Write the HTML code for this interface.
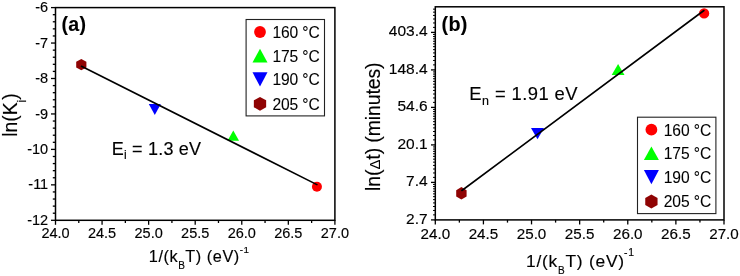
<!DOCTYPE html>
<html><head><meta charset="utf-8"><style>
html,body{margin:0;padding:0;background:#fff;}
svg{display:block;font-family:"Liberation Sans", Arial, sans-serif;fill:#000;}
text{stroke:#000;stroke-width:0.15px;paint-order:stroke;}
</style></head><body>
<svg width="740" height="276" viewBox="0 0 740 276">
<line x1="55.5" y1="220.3" x2="55.5" y2="224.8" stroke="#000" stroke-width="1.3" stroke-linecap="butt"/>
<line x1="78.78" y1="220.3" x2="78.78" y2="223" stroke="#000" stroke-width="1.3" stroke-linecap="butt"/>
<line x1="102.07" y1="220.3" x2="102.07" y2="224.8" stroke="#000" stroke-width="1.3" stroke-linecap="butt"/>
<line x1="125.35" y1="220.3" x2="125.35" y2="223" stroke="#000" stroke-width="1.3" stroke-linecap="butt"/>
<line x1="148.63" y1="220.3" x2="148.63" y2="224.8" stroke="#000" stroke-width="1.3" stroke-linecap="butt"/>
<line x1="171.92" y1="220.3" x2="171.92" y2="223" stroke="#000" stroke-width="1.3" stroke-linecap="butt"/>
<line x1="195.2" y1="220.3" x2="195.2" y2="224.8" stroke="#000" stroke-width="1.3" stroke-linecap="butt"/>
<line x1="218.48" y1="220.3" x2="218.48" y2="223" stroke="#000" stroke-width="1.3" stroke-linecap="butt"/>
<line x1="241.77" y1="220.3" x2="241.77" y2="224.8" stroke="#000" stroke-width="1.3" stroke-linecap="butt"/>
<line x1="265.05" y1="220.3" x2="265.05" y2="223" stroke="#000" stroke-width="1.3" stroke-linecap="butt"/>
<line x1="288.33" y1="220.3" x2="288.33" y2="224.8" stroke="#000" stroke-width="1.3" stroke-linecap="butt"/>
<line x1="311.62" y1="220.3" x2="311.62" y2="223" stroke="#000" stroke-width="1.3" stroke-linecap="butt"/>
<line x1="334.9" y1="220.3" x2="334.9" y2="224.8" stroke="#000" stroke-width="1.3" stroke-linecap="butt"/>
<line x1="55.5" y1="7.6" x2="51" y2="7.6" stroke="#000" stroke-width="1.3" stroke-linecap="butt"/>
<line x1="55.5" y1="14.69" x2="52.8" y2="14.69" stroke="#000" stroke-width="1.3" stroke-linecap="butt"/>
<line x1="55.5" y1="21.78" x2="52.8" y2="21.78" stroke="#000" stroke-width="1.3" stroke-linecap="butt"/>
<line x1="55.5" y1="28.87" x2="52.8" y2="28.87" stroke="#000" stroke-width="1.3" stroke-linecap="butt"/>
<line x1="55.5" y1="35.96" x2="52.8" y2="35.96" stroke="#000" stroke-width="1.3" stroke-linecap="butt"/>
<line x1="55.5" y1="43.05" x2="51" y2="43.05" stroke="#000" stroke-width="1.3" stroke-linecap="butt"/>
<line x1="55.5" y1="50.14" x2="52.8" y2="50.14" stroke="#000" stroke-width="1.3" stroke-linecap="butt"/>
<line x1="55.5" y1="57.23" x2="52.8" y2="57.23" stroke="#000" stroke-width="1.3" stroke-linecap="butt"/>
<line x1="55.5" y1="64.32" x2="52.8" y2="64.32" stroke="#000" stroke-width="1.3" stroke-linecap="butt"/>
<line x1="55.5" y1="71.41" x2="52.8" y2="71.41" stroke="#000" stroke-width="1.3" stroke-linecap="butt"/>
<line x1="55.5" y1="78.5" x2="51" y2="78.5" stroke="#000" stroke-width="1.3" stroke-linecap="butt"/>
<line x1="55.5" y1="85.59" x2="52.8" y2="85.59" stroke="#000" stroke-width="1.3" stroke-linecap="butt"/>
<line x1="55.5" y1="92.68" x2="52.8" y2="92.68" stroke="#000" stroke-width="1.3" stroke-linecap="butt"/>
<line x1="55.5" y1="99.77" x2="52.8" y2="99.77" stroke="#000" stroke-width="1.3" stroke-linecap="butt"/>
<line x1="55.5" y1="106.86" x2="52.8" y2="106.86" stroke="#000" stroke-width="1.3" stroke-linecap="butt"/>
<line x1="55.5" y1="113.95" x2="51" y2="113.95" stroke="#000" stroke-width="1.3" stroke-linecap="butt"/>
<line x1="55.5" y1="121.04" x2="52.8" y2="121.04" stroke="#000" stroke-width="1.3" stroke-linecap="butt"/>
<line x1="55.5" y1="128.13" x2="52.8" y2="128.13" stroke="#000" stroke-width="1.3" stroke-linecap="butt"/>
<line x1="55.5" y1="135.22" x2="52.8" y2="135.22" stroke="#000" stroke-width="1.3" stroke-linecap="butt"/>
<line x1="55.5" y1="142.31" x2="52.8" y2="142.31" stroke="#000" stroke-width="1.3" stroke-linecap="butt"/>
<line x1="55.5" y1="149.4" x2="51" y2="149.4" stroke="#000" stroke-width="1.3" stroke-linecap="butt"/>
<line x1="55.5" y1="156.49" x2="52.8" y2="156.49" stroke="#000" stroke-width="1.3" stroke-linecap="butt"/>
<line x1="55.5" y1="163.58" x2="52.8" y2="163.58" stroke="#000" stroke-width="1.3" stroke-linecap="butt"/>
<line x1="55.5" y1="170.67" x2="52.8" y2="170.67" stroke="#000" stroke-width="1.3" stroke-linecap="butt"/>
<line x1="55.5" y1="177.76" x2="52.8" y2="177.76" stroke="#000" stroke-width="1.3" stroke-linecap="butt"/>
<line x1="55.5" y1="184.85" x2="51" y2="184.85" stroke="#000" stroke-width="1.3" stroke-linecap="butt"/>
<line x1="55.5" y1="191.94" x2="52.8" y2="191.94" stroke="#000" stroke-width="1.3" stroke-linecap="butt"/>
<line x1="55.5" y1="199.03" x2="52.8" y2="199.03" stroke="#000" stroke-width="1.3" stroke-linecap="butt"/>
<line x1="55.5" y1="206.12" x2="52.8" y2="206.12" stroke="#000" stroke-width="1.3" stroke-linecap="butt"/>
<line x1="55.5" y1="213.21" x2="52.8" y2="213.21" stroke="#000" stroke-width="1.3" stroke-linecap="butt"/>
<line x1="55.5" y1="220.3" x2="51" y2="220.3" stroke="#000" stroke-width="1.3" stroke-linecap="butt"/>
<rect x="55.5" y="7.6" width="279.4" height="212.7" fill="none" stroke="#000" stroke-width="1.5"/>
<text x="55.5" y="238" font-size="14.5" text-anchor="middle" font-weight="normal" >24.0</text>
<text x="102.07" y="238" font-size="14.5" text-anchor="middle" font-weight="normal" >24.5</text>
<text x="148.63" y="238" font-size="14.5" text-anchor="middle" font-weight="normal" >25.0</text>
<text x="195.2" y="238" font-size="14.5" text-anchor="middle" font-weight="normal" >25.5</text>
<text x="241.77" y="238" font-size="14.5" text-anchor="middle" font-weight="normal" >26.0</text>
<text x="288.33" y="238" font-size="14.5" text-anchor="middle" font-weight="normal" >26.5</text>
<text x="334.9" y="238" font-size="14.5" text-anchor="middle" font-weight="normal" >27.0</text>
<text x="48.2" y="12.2" font-size="14.5" text-anchor="end" font-weight="normal" >-6</text>
<text x="48.2" y="47.65" font-size="14.5" text-anchor="end" font-weight="normal" >-7</text>
<text x="48.2" y="83.1" font-size="14.5" text-anchor="end" font-weight="normal" >-8</text>
<text x="48.2" y="118.55" font-size="14.5" text-anchor="end" font-weight="normal" >-9</text>
<text x="48.2" y="154" font-size="14.5" text-anchor="end" font-weight="normal" >-10</text>
<text x="48.2" y="189.45" font-size="14.5" text-anchor="end" font-weight="normal" >-11</text>
<text x="48.2" y="224.9" font-size="14.5" text-anchor="end" font-weight="normal" >-12</text>
<text x="148.8" y="261.7" font-size="16.3" text-anchor="start" font-weight="normal" letter-spacing="0.55">1/(k<tspan font-size="10" dy="7.3" letter-spacing="0">B</tspan><tspan dy="-7.3" dx="0.5">T) (eV)</tspan><tspan font-size="9.8" dy="-9" dx="0">-1</tspan></text>
<text transform="translate(17.2,136.8) rotate(-90)" font-size="19.3">ln(K<tspan font-size="12" dy="9">i</tspan><tspan dy="-9">)</tspan></text>
<text x="61.6" y="31" font-size="19.6" text-anchor="start" font-weight="bold" style="stroke-width:0.1px" letter-spacing="0.2">(a)</text>
<text x="111.8" y="155" font-size="18" text-anchor="start" font-weight="normal" letter-spacing="0.2">E<tspan font-size="12" dy="4.1">i</tspan><tspan dy="-4.1"> = 1.3 eV</tspan></text>
<circle cx="316.93" cy="186.7" r="5" fill="#ff0000"/>
<polygon points="81.3,58.9 86.4,61.75 86.4,67.45 81.3,70.3 76.2,67.45 76.2,61.75" fill="#8f0303"/>
<polygon points="148.8,104.1 160.8,104.1 154.8,115.1" fill="#0000ff"/>
<polygon points="233.3,130.5 239.05,140.8 227.55,140.8" fill="#00ff00"/>
<line x1="81.5" y1="66.3" x2="316.9" y2="184.6" stroke="#000" stroke-width="1.6" stroke-linecap="round"/>
<rect x="246.1" y="19.5" width="78.4" height="96.4" fill="#fff" stroke="#222" stroke-width="1.1"/>
<circle cx="260" cy="32" r="5.9" fill="#ff0000"/>
<polygon points="260,48.7 267.5,62.4 252.5,62.4" fill="#00ff00"/>
<polygon points="252.5,72.3 267.5,72.3 260,86.6" fill="#0000ff"/>
<polygon points="260,96.9 266.15,100.35 266.15,107.25 260,110.7 253.85,107.25 253.85,100.35" fill="#8f0303"/>
<text x="272.4" y="37.9" font-size="15.6" text-anchor="start" font-weight="normal" letter-spacing="-0.1" style="stroke-width:0.08px">160 °C</text>
<text x="272.4" y="61.6" font-size="15.6" text-anchor="start" font-weight="normal" letter-spacing="-0.1" style="stroke-width:0.08px">175 °C</text>
<text x="272.4" y="85.4" font-size="15.6" text-anchor="start" font-weight="normal" letter-spacing="-0.1" style="stroke-width:0.08px">190 °C</text>
<text x="272.4" y="109.7" font-size="15.6" text-anchor="start" font-weight="normal" letter-spacing="-0.1" style="stroke-width:0.08px">205 °C</text>
<line x1="435.3" y1="219.9" x2="435.3" y2="224.4" stroke="#000" stroke-width="1.3" stroke-linecap="butt"/>
<line x1="459.36" y1="219.9" x2="459.36" y2="222.6" stroke="#000" stroke-width="1.3" stroke-linecap="butt"/>
<line x1="483.42" y1="219.9" x2="483.42" y2="224.4" stroke="#000" stroke-width="1.3" stroke-linecap="butt"/>
<line x1="507.48" y1="219.9" x2="507.48" y2="222.6" stroke="#000" stroke-width="1.3" stroke-linecap="butt"/>
<line x1="531.53" y1="219.9" x2="531.53" y2="224.4" stroke="#000" stroke-width="1.3" stroke-linecap="butt"/>
<line x1="555.59" y1="219.9" x2="555.59" y2="222.6" stroke="#000" stroke-width="1.3" stroke-linecap="butt"/>
<line x1="579.65" y1="219.9" x2="579.65" y2="224.4" stroke="#000" stroke-width="1.3" stroke-linecap="butt"/>
<line x1="603.71" y1="219.9" x2="603.71" y2="222.6" stroke="#000" stroke-width="1.3" stroke-linecap="butt"/>
<line x1="627.77" y1="219.9" x2="627.77" y2="224.4" stroke="#000" stroke-width="1.3" stroke-linecap="butt"/>
<line x1="651.83" y1="219.9" x2="651.83" y2="222.6" stroke="#000" stroke-width="1.3" stroke-linecap="butt"/>
<line x1="675.88" y1="219.9" x2="675.88" y2="224.4" stroke="#000" stroke-width="1.3" stroke-linecap="butt"/>
<line x1="699.94" y1="219.9" x2="699.94" y2="222.6" stroke="#000" stroke-width="1.3" stroke-linecap="butt"/>
<line x1="724" y1="219.9" x2="724" y2="224.4" stroke="#000" stroke-width="1.3" stroke-linecap="butt"/>
<line x1="435.3" y1="219.9" x2="431" y2="219.9" stroke="#000" stroke-width="1.3" stroke-linecap="butt"/>
<line x1="435.3" y1="214.88" x2="433" y2="214.88" stroke="#000" stroke-width="1.0" stroke-linecap="butt"/>
<line x1="435.3" y1="210.46" x2="433" y2="210.46" stroke="#000" stroke-width="1.0" stroke-linecap="butt"/>
<line x1="435.3" y1="206.5" x2="433" y2="206.5" stroke="#000" stroke-width="1.0" stroke-linecap="butt"/>
<line x1="435.3" y1="202.92" x2="433" y2="202.92" stroke="#000" stroke-width="1.0" stroke-linecap="butt"/>
<line x1="435.3" y1="199.65" x2="433" y2="199.65" stroke="#000" stroke-width="1.0" stroke-linecap="butt"/>
<line x1="435.3" y1="196.65" x2="433" y2="196.65" stroke="#000" stroke-width="1.0" stroke-linecap="butt"/>
<line x1="435.3" y1="193.86" x2="433" y2="193.86" stroke="#000" stroke-width="1.0" stroke-linecap="butt"/>
<line x1="435.3" y1="191.27" x2="433" y2="191.27" stroke="#000" stroke-width="1.0" stroke-linecap="butt"/>
<line x1="435.3" y1="188.85" x2="433" y2="188.85" stroke="#000" stroke-width="1.0" stroke-linecap="butt"/>
<line x1="435.3" y1="186.57" x2="433" y2="186.57" stroke="#000" stroke-width="1.0" stroke-linecap="butt"/>
<line x1="435.3" y1="184.43" x2="433" y2="184.43" stroke="#000" stroke-width="1.0" stroke-linecap="butt"/>
<line x1="435.3" y1="182.4" x2="431" y2="182.4" stroke="#000" stroke-width="1.3" stroke-linecap="butt"/>
<line x1="435.3" y1="177.38" x2="433" y2="177.38" stroke="#000" stroke-width="1.0" stroke-linecap="butt"/>
<line x1="435.3" y1="172.96" x2="433" y2="172.96" stroke="#000" stroke-width="1.0" stroke-linecap="butt"/>
<line x1="435.3" y1="169" x2="433" y2="169" stroke="#000" stroke-width="1.0" stroke-linecap="butt"/>
<line x1="435.3" y1="165.42" x2="433" y2="165.42" stroke="#000" stroke-width="1.0" stroke-linecap="butt"/>
<line x1="435.3" y1="162.15" x2="433" y2="162.15" stroke="#000" stroke-width="1.0" stroke-linecap="butt"/>
<line x1="435.3" y1="159.15" x2="433" y2="159.15" stroke="#000" stroke-width="1.0" stroke-linecap="butt"/>
<line x1="435.3" y1="156.36" x2="433" y2="156.36" stroke="#000" stroke-width="1.0" stroke-linecap="butt"/>
<line x1="435.3" y1="153.77" x2="433" y2="153.77" stroke="#000" stroke-width="1.0" stroke-linecap="butt"/>
<line x1="435.3" y1="151.35" x2="433" y2="151.35" stroke="#000" stroke-width="1.0" stroke-linecap="butt"/>
<line x1="435.3" y1="149.07" x2="433" y2="149.07" stroke="#000" stroke-width="1.0" stroke-linecap="butt"/>
<line x1="435.3" y1="146.93" x2="433" y2="146.93" stroke="#000" stroke-width="1.0" stroke-linecap="butt"/>
<line x1="435.3" y1="144.9" x2="431" y2="144.9" stroke="#000" stroke-width="1.3" stroke-linecap="butt"/>
<line x1="435.3" y1="139.88" x2="433" y2="139.88" stroke="#000" stroke-width="1.0" stroke-linecap="butt"/>
<line x1="435.3" y1="135.46" x2="433" y2="135.46" stroke="#000" stroke-width="1.0" stroke-linecap="butt"/>
<line x1="435.3" y1="131.5" x2="433" y2="131.5" stroke="#000" stroke-width="1.0" stroke-linecap="butt"/>
<line x1="435.3" y1="127.92" x2="433" y2="127.92" stroke="#000" stroke-width="1.0" stroke-linecap="butt"/>
<line x1="435.3" y1="124.65" x2="433" y2="124.65" stroke="#000" stroke-width="1.0" stroke-linecap="butt"/>
<line x1="435.3" y1="121.65" x2="433" y2="121.65" stroke="#000" stroke-width="1.0" stroke-linecap="butt"/>
<line x1="435.3" y1="118.86" x2="433" y2="118.86" stroke="#000" stroke-width="1.0" stroke-linecap="butt"/>
<line x1="435.3" y1="116.27" x2="433" y2="116.27" stroke="#000" stroke-width="1.0" stroke-linecap="butt"/>
<line x1="435.3" y1="113.85" x2="433" y2="113.85" stroke="#000" stroke-width="1.0" stroke-linecap="butt"/>
<line x1="435.3" y1="111.57" x2="433" y2="111.57" stroke="#000" stroke-width="1.0" stroke-linecap="butt"/>
<line x1="435.3" y1="109.43" x2="433" y2="109.43" stroke="#000" stroke-width="1.0" stroke-linecap="butt"/>
<line x1="435.3" y1="107.4" x2="431" y2="107.4" stroke="#000" stroke-width="1.3" stroke-linecap="butt"/>
<line x1="435.3" y1="102.38" x2="433" y2="102.38" stroke="#000" stroke-width="1.0" stroke-linecap="butt"/>
<line x1="435.3" y1="97.96" x2="433" y2="97.96" stroke="#000" stroke-width="1.0" stroke-linecap="butt"/>
<line x1="435.3" y1="94" x2="433" y2="94" stroke="#000" stroke-width="1.0" stroke-linecap="butt"/>
<line x1="435.3" y1="90.42" x2="433" y2="90.42" stroke="#000" stroke-width="1.0" stroke-linecap="butt"/>
<line x1="435.3" y1="87.15" x2="433" y2="87.15" stroke="#000" stroke-width="1.0" stroke-linecap="butt"/>
<line x1="435.3" y1="84.15" x2="433" y2="84.15" stroke="#000" stroke-width="1.0" stroke-linecap="butt"/>
<line x1="435.3" y1="81.36" x2="433" y2="81.36" stroke="#000" stroke-width="1.0" stroke-linecap="butt"/>
<line x1="435.3" y1="78.77" x2="433" y2="78.77" stroke="#000" stroke-width="1.0" stroke-linecap="butt"/>
<line x1="435.3" y1="76.35" x2="433" y2="76.35" stroke="#000" stroke-width="1.0" stroke-linecap="butt"/>
<line x1="435.3" y1="74.07" x2="433" y2="74.07" stroke="#000" stroke-width="1.0" stroke-linecap="butt"/>
<line x1="435.3" y1="71.93" x2="433" y2="71.93" stroke="#000" stroke-width="1.0" stroke-linecap="butt"/>
<line x1="435.3" y1="69.9" x2="431" y2="69.9" stroke="#000" stroke-width="1.3" stroke-linecap="butt"/>
<line x1="435.3" y1="64.88" x2="433" y2="64.88" stroke="#000" stroke-width="1.0" stroke-linecap="butt"/>
<line x1="435.3" y1="60.46" x2="433" y2="60.46" stroke="#000" stroke-width="1.0" stroke-linecap="butt"/>
<line x1="435.3" y1="56.5" x2="433" y2="56.5" stroke="#000" stroke-width="1.0" stroke-linecap="butt"/>
<line x1="435.3" y1="52.92" x2="433" y2="52.92" stroke="#000" stroke-width="1.0" stroke-linecap="butt"/>
<line x1="435.3" y1="49.65" x2="433" y2="49.65" stroke="#000" stroke-width="1.0" stroke-linecap="butt"/>
<line x1="435.3" y1="46.65" x2="433" y2="46.65" stroke="#000" stroke-width="1.0" stroke-linecap="butt"/>
<line x1="435.3" y1="43.86" x2="433" y2="43.86" stroke="#000" stroke-width="1.0" stroke-linecap="butt"/>
<line x1="435.3" y1="41.27" x2="433" y2="41.27" stroke="#000" stroke-width="1.0" stroke-linecap="butt"/>
<line x1="435.3" y1="38.85" x2="433" y2="38.85" stroke="#000" stroke-width="1.0" stroke-linecap="butt"/>
<line x1="435.3" y1="36.57" x2="433" y2="36.57" stroke="#000" stroke-width="1.0" stroke-linecap="butt"/>
<line x1="435.3" y1="34.43" x2="433" y2="34.43" stroke="#000" stroke-width="1.0" stroke-linecap="butt"/>
<line x1="435.3" y1="32.4" x2="431" y2="32.4" stroke="#000" stroke-width="1.3" stroke-linecap="butt"/>
<line x1="435.3" y1="27.38" x2="433" y2="27.38" stroke="#000" stroke-width="1.0" stroke-linecap="butt"/>
<line x1="435.3" y1="22.96" x2="433" y2="22.96" stroke="#000" stroke-width="1.0" stroke-linecap="butt"/>
<line x1="435.3" y1="19" x2="433" y2="19" stroke="#000" stroke-width="1.0" stroke-linecap="butt"/>
<line x1="435.3" y1="15.42" x2="433" y2="15.42" stroke="#000" stroke-width="1.0" stroke-linecap="butt"/>
<line x1="435.3" y1="12.15" x2="433" y2="12.15" stroke="#000" stroke-width="1.0" stroke-linecap="butt"/>
<line x1="435.3" y1="9.15" x2="433" y2="9.15" stroke="#000" stroke-width="1.0" stroke-linecap="butt"/>
<rect x="435.3" y="6.8" width="288.7" height="213.1" fill="none" stroke="#000" stroke-width="1.5"/>
<text x="435.3" y="239.3" font-size="15.2" text-anchor="middle" font-weight="normal" >24.0</text>
<text x="483.42" y="239.3" font-size="15.2" text-anchor="middle" font-weight="normal" >24.5</text>
<text x="531.53" y="239.3" font-size="15.2" text-anchor="middle" font-weight="normal" >25.0</text>
<text x="579.65" y="239.3" font-size="15.2" text-anchor="middle" font-weight="normal" >25.5</text>
<text x="627.77" y="239.3" font-size="15.2" text-anchor="middle" font-weight="normal" >26.0</text>
<text x="675.88" y="239.3" font-size="15.2" text-anchor="middle" font-weight="normal" >26.5</text>
<text x="724" y="239.3" font-size="15.2" text-anchor="middle" font-weight="normal" >27.0</text>
<text x="427.6" y="223.9" font-size="15.5" text-anchor="end" font-weight="normal" >2.7</text>
<text x="427.6" y="186.4" font-size="15.5" text-anchor="end" font-weight="normal" >7.4</text>
<text x="427.6" y="148.9" font-size="15.5" text-anchor="end" font-weight="normal" >20.1</text>
<text x="427.6" y="111.4" font-size="15.5" text-anchor="end" font-weight="normal" >54.6</text>
<text x="427.6" y="73.9" font-size="15.5" text-anchor="end" font-weight="normal" >148.4</text>
<text x="427.6" y="36.4" font-size="15.5" text-anchor="end" font-weight="normal" >403.4</text>
<text x="526" y="266.7" font-size="17.4" text-anchor="start" font-weight="normal" letter-spacing="0.75">1/(k<tspan font-size="10" dy="7">B</tspan><tspan dy="-7">T) (eV)</tspan><tspan font-size="10.4" dy="-10.3" dx="-0.8">-1</tspan></text>
<text transform="translate(380.2,190.9) rotate(-90)" font-size="19.4" letter-spacing="-0.08">ln(<tspan font-size="15" style="stroke-width:0">Δ</tspan>t) (minutes)</text>
<text x="441.6" y="31.2" font-size="19.8" text-anchor="start" font-weight="bold" style="stroke-width:0.1px" letter-spacing="0.2">(b)</text>
<text x="469.3" y="100.3" font-size="18.4" text-anchor="start" font-weight="normal" letter-spacing="0.42">E<tspan font-size="12.5" dy="4.4">n</tspan><tspan dy="-4.4"> = 1.91 eV</tspan></text>
<polygon points="461.4,187.1 466.6,190.2 466.6,196.4 461.4,199.5 456.2,196.4 456.2,190.2" fill="#8f0303"/>
<polygon points="531,128.1 544,128.1 537.5,139.2" fill="#0000ff"/>
<polygon points="618.1,64.1 624.5,74.9 611.7,74.9" fill="#00ff00"/>
<circle cx="704.1" cy="13.4" r="5.15" fill="#ff0000"/>
<line x1="461.9" y1="190.5" x2="703.9" y2="10.5" stroke="#000" stroke-width="1.6" stroke-linecap="round"/>
<rect x="637.5" y="117.2" width="78.4" height="96.4" fill="#fff" stroke="#222" stroke-width="1.1"/>
<circle cx="651.4" cy="129.7" r="5.9" fill="#ff0000"/>
<polygon points="651.4,146.4 658.9,160.1 643.9,160.1" fill="#00ff00"/>
<polygon points="643.9,170 658.9,170 651.4,184.3" fill="#0000ff"/>
<polygon points="651.4,194.6 657.55,198.05 657.55,204.95 651.4,208.4 645.25,204.95 645.25,198.05" fill="#8f0303"/>
<text x="663.8" y="135.6" font-size="15.6" text-anchor="start" font-weight="normal" letter-spacing="-0.1" style="stroke-width:0.08px">160 °C</text>
<text x="663.8" y="159.3" font-size="15.6" text-anchor="start" font-weight="normal" letter-spacing="-0.1" style="stroke-width:0.08px">175 °C</text>
<text x="663.8" y="183.1" font-size="15.6" text-anchor="start" font-weight="normal" letter-spacing="-0.1" style="stroke-width:0.08px">190 °C</text>
<text x="663.8" y="207.4" font-size="15.6" text-anchor="start" font-weight="normal" letter-spacing="-0.1" style="stroke-width:0.08px">205 °C</text>
</svg>
</body></html>
